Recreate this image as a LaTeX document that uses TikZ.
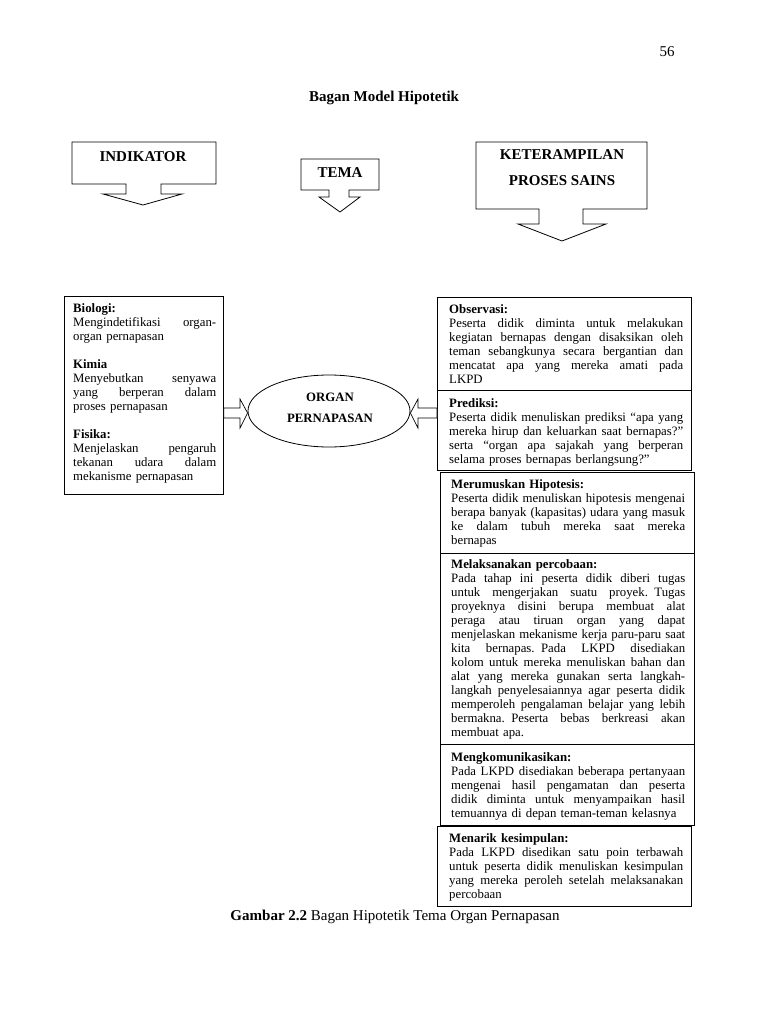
\documentclass[tikz,border=0pt]{standalone}
\usepackage{fontspec}
\setmainfont{Liberation Serif}
\usetikzlibrary{shapes.geometric}
\newlength\lw
\newcommand\jl[1]{\leavevmode{\spaceskip=0.25em plus 1fil minus 0.08em\relax\hbox to\lw{\vrule height 10pt depth 3pt width 0pt\relax #1}}\par}
\newcommand\lastl[1]{\leavevmode\hbox{\vrule height 10pt depth 3pt width 0pt\relax #1}\par}
\newcommand\hd[1]{\leavevmode\hbox{\vrule height 10pt depth 3pt width 0pt\relax \textbf{#1}}\par}
\newcommand\blankl{\leavevmode\hbox{\vrule height 10pt depth 3pt width 0pt}\par}
\newcommand\bodyfont{\fontsize{12.8}{14}\selectfont\setlength{\parindent}{0pt}\setlength{\parskip}{0pt}}
\tikzset{
  line/.style={draw=black, line width=0.8pt},
  blockarrow/.style={draw=black, line width=0.7pt, fill=white},
  bodytext/.style={anchor=north west, inner sep=0pt, font=\bodyfont},
  headtext/.style={font=\bfseries\fontsize{15}{17}\selectfont, inner sep=0pt},
  organtext/.style={font=\bfseries\fontsize{12.8}{14}\selectfont, inner sep=0pt},
}
\begin{document}
\begin{tikzpicture}[x=1pt,y=-1pt]
\useasboundingbox (0,0) rectangle (768,1024);
\fill[white] (0,0) rectangle (768,1024);

% page number and title
\node[inner sep=0pt, font=\fontsize{15}{17}\selectfont] (pnum) at (667,52) {56};
\node[inner sep=0pt, font=\bfseries\fontsize{15}{17}\selectfont] (title) at (384,98) {Bagan Model Hipotetik};

% callout shapes
\draw[line] (72,142) -- (216,142) -- (216,184) -- (161,184) -- (161,194) -- (182,194) -- (143,205) -- (103,194) -- (126,194) -- (126,184) -- (72,184) -- cycle;
\node[headtext] (ind) at (143,157) {INDIKATOR};

\draw[line] (301,159) -- (379,159) -- (379,190) -- (349,190) -- (349,197) -- (360,197) -- (340,212) -- (319,197) -- (329,197) -- (329,190) -- (301,190) -- cycle;
\node[headtext] (tema) at (340,173) {TEMA};

\draw[line] (476,142) -- (647,142) -- (647,209) -- (583,209) -- (583,224) -- (606,224) -- (562,241) -- (518,224) -- (539,224) -- (539,209) -- (476,209) -- cycle;
\node[headtext] (kps1) at (562,155) {KETERAMPILAN};
\node[headtext] (kps2) at (562,181) {PROSES SAINS};

% left box
\node[line, draw, anchor=north west, minimum width=159pt, minimum height=198pt, inner sep=0pt] (leftbox) at (64,296) {};
\setlength\lw{143pt}
\node[bodytext, text width=143pt] (lefttext) at (73,302) {%
\hd{Biologi:}
\jl{Mengindetifikasi organ-}
\lastl{organ pernapasan}
\blankl
\hd{Kimia}
\jl{Menyebutkan senyawa}
\jl{yang berperan dalam}
\lastl{proses pernapasan}
\blankl
\hd{Fisika:}
\jl{Menjelaskan pengaruh}
\jl{tekanan udara dalam}
\lastl{mekanisme pernapasan}};

% ellipse
\node[draw, line width=0.8pt, ellipse, minimum width=162pt, minimum height=72pt, inner sep=0pt] (organ) at (329,411) {};
\node[organtext] (organ1) at (330,397) {ORGAN};
\node[organtext] (organ2) at (330,418) {PERNAPASAN};

% block arrows
\draw[blockarrow] (leftbox.east |- 0,408) -- (240,408) -- (240,399) -- (organ.west |- 0,413) -- (240,428) -- (240,418) -- (leftbox.east |- 0,418) -- cycle;

% right boxes
\draw[line] (437,297) rectangle (691,470);
\draw[line] (437,390) -- (691,390);
\coordinate (rbl) at (437,413);
\draw[blockarrow] (rbl |- 0,408) -- (418,408) -- (418,399) -- (organ.east |- 0,413) -- (418,428) -- (418,418) -- (rbl |- 0,418) -- cycle;

\setlength\lw{234pt}
\node[bodytext, text width=234pt] (obs) at (449,303) {%
\hd{Observasi:}
\jl{Peserta didik diminta untuk melakukan}
\jl{kegiatan bernapas dengan disaksikan oleh}
\jl{teman sebangkunya secara bergantian dan}
\jl{mencatat apa yang mereka amati pada}
\lastl{LKPD}};

\node[bodytext, text width=234pt] (pred) at (449,397) {%
\hd{Prediksi:}
\jl{Peserta didik menuliskan prediksi “apa yang}
\jl{mereka hirup dan keluarkan saat bernapas?”}
\jl{serta “organ apa sajakah yang berperan}
\lastl{selama proses bernapas berlangsung?”}};

\draw[line] (440,472) rectangle (694,553);
\node[bodytext, text width=234pt] (hip) at (451,478) {%
\hd{Merumuskan Hipotesis:}
\jl{Peserta didik menuliskan hipotesis mengenai}
\jl{berapa banyak (kapasitas) udara yang masuk}
\jl{ke dalam tubuh mereka saat mereka}
\lastl{bernapas}};

\draw[line] (440,553) rectangle (694,744);
\node[bodytext, text width=234pt] (perc) at (451,558) {%
\hd{Melaksanakan percobaan:}
\jl{Pada tahap ini peserta didik diberi tugas}
\jl{untuk mengerjakan suatu proyek. Tugas}
\jl{proyeknya disini berupa membuat alat}
\jl{peraga atau tiruan organ yang dapat}
\jl{menjelaskan mekanisme kerja paru-paru saat}
\jl{kita bernapas. Pada LKPD disediakan}
\jl{kolom untuk mereka menuliskan bahan dan}
\jl{alat yang mereka gunakan serta langkah-}
\jl{langkah penyelesaiannya agar peserta didik}
\jl{memperoleh pengalaman belajar yang lebih}
\jl{bermakna. Peserta bebas berkreasi akan}
\lastl{membuat apa.}};

\draw[line] (440,744) rectangle (694,825);
\node[bodytext, text width=234pt] (kom) at (451,751) {%
\hd{Mengkomunikasikan:}
\jl{Pada LKPD disediakan beberapa pertanyaan}
\jl{mengenai hasil pengamatan dan peserta}
\jl{didik diminta untuk menyampaikan hasil}
\lastl{temuannya di depan teman-teman kelasnya}};

\draw[line] (437,826) rectangle (691,906);
\node[bodytext, text width=234pt] (kes) at (449,832) {%
\hd{Menarik kesimpulan:}
\jl{Pada LKPD disedikan satu poin terbawah}
\jl{untuk peserta didik menuliskan kesimpulan}
\jl{yang mereka peroleh setelah melaksanakan}
\lastl{percobaan}};

% caption
\node[inner sep=0pt, font=\fontsize{15}{17}\selectfont] (cap) at (395,917) {\textbf{Gambar 2.2} Bagan Hipotetik Tema Organ Pernapasan};
\end{tikzpicture}
\end{document}
